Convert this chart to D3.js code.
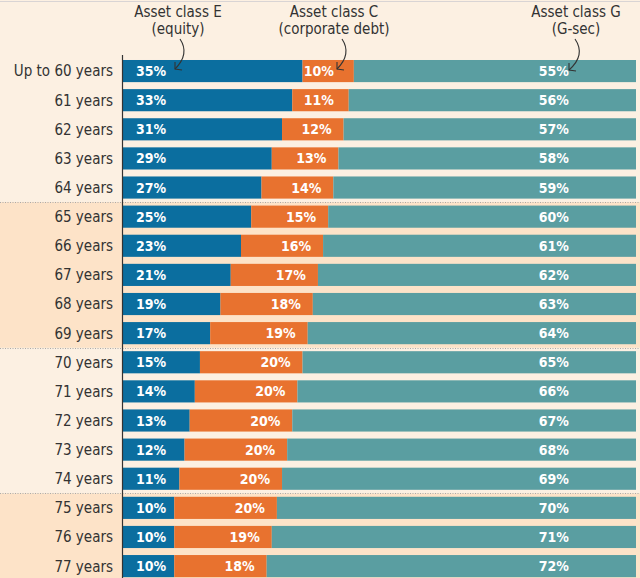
<!DOCTYPE html>
<html><head><meta charset="utf-8">
<script src="https://cdn.jsdelivr.net/npm/d3@7"></script>
<style>
html,body{margin:0;padding:0;background:#fcf0e2;}
svg{display:block;font-family:"DejaVu Sans",sans-serif;font-stretch:condensed;}
</style></head>
<body><svg id="c" width="640" height="578"></svg>
<script>
const ages = ["Up to 60 years","61 years","62 years","63 years","64 years","65 years","66 years","67 years","68 years","69 years","70 years","71 years","72 years","73 years","74 years","75 years","76 years","77 years"];
const equity = [35,33,31,29,27,25,23,21,19,17,15,14,13,12,11,10,10,10];
const corporate = [10,11,12,13,14,15,16,17,18,19,20,20,20,20,20,20,19,18];
const gsec = [55,56,57,58,59,60,61,62,63,64,65,66,67,68,69,70,71,72];
const seriesNames = ["Asset class E","Asset class C","Asset class G"];
const seriesSubs = ["(equity)","(corporate debt)","(G-sec)"];
const groups = [0,0,0,0,0,1,1,1,1,1,2,2,2,2,2,3,3,3];

const W = 640, H = 578;
const svg = d3.select("#c");
const colors = ["#0b6e9f","#e8722f","#5a9ea1"];

const x = d3.scaleLinear().domain([0,100]).range([123,636]);
const y = d3.scaleBand().domain(ages).range([56.5, 56.5 + 29.12*ages.length]).paddingInner(0.24).paddingOuter(0.12);

const step = y.step();
const rowTop = i => y(ages[i]) - y.paddingInner()*step/2;

// background bands for alternate groups
const grpIdx = d3.range(ages.length);
const gStart = {}, gEnd = {};
grpIdx.forEach(i=>{const g=groups[i]; if(gStart[g]===undefined) gStart[g]=i; gEnd[g]=i;});
Object.keys(gStart).forEach(g=>{
  if (+g % 2 === 1) {
    const top = rowTop(gStart[g]);
    const bot = Math.min(H, rowTop(gEnd[g]) + step);
    svg.append("rect").attr("x",0).attr("y",top).attr("width",W).attr("height",bot-top).attr("fill","#fde3c8");
  }
});
// top border
svg.append("line").attr("x1",0).attr("x2",W).attr("y1",1.5).attr("y2",1.5).attr("stroke","#d9d4d4").attr("stroke-width",1);

// separators
Object.keys(gStart).forEach(g=>{
  if (+g > 0) {
    const yy = Math.round(rowTop(gStart[g])) + 0.5;
    svg.append("line").attr("x1",0).attr("x2",W).attr("y1",yy).attr("y2",yy)
      .attr("stroke","#aaa").attr("stroke-width",1).attr("stroke-dasharray","1,1.5");
  }
});

const rows = ages.map((a,i)=>({age:a, vals:[equity[i],corporate[i],gsec[i]]}));
const bh = y.bandwidth();

rows.forEach((r,i)=>{
  let cum = 0;
  r.vals.forEach((v,k)=>{
    svg.append("rect").attr("x",x(cum)).attr("y",y(r.age)).attr("width",x(cum+v)-x(cum)).attr("height",bh).attr("fill",colors[k]);
    cum += v;
  });
  const cy = y(r.age) + bh/2;
  const common = s => s.attr("y",cy).attr("dy","0.36em").attr("fill","#fff").attr("font-weight","bold").attr("font-size",14);
  common(svg.append("text").attr("x",x(0)+13).attr("text-anchor","start").text(r.vals[0]+"%"));
  const cEnd = x(r.vals[0]+r.vals[1]);
  common(svg.append("text").attr("x",Math.min(cEnd-12, x(0)+211)).attr("text-anchor","end").text(r.vals[1]+"%"));
  common(svg.append("text").attr("x",x(86.9)).attr("text-anchor","end").text(r.vals[2]+"%"));
  svg.append("text").attr("x",113).attr("y",cy).attr("dy","0.36em").attr("text-anchor","end")
    .attr("fill","#333").attr("font-size",15).text(r.age);
});

// axis line
svg.append("line").attr("x1",122.5).attr("x2",122.5).attr("y1",55).attr("y2",H).attr("stroke","#333").attr("stroke-width",1.2);

// headers
const headX = [178, 334, 576];
seriesNames.forEach((n,k)=>{
  svg.append("text").attr("x",headX[k]).attr("y",17).attr("text-anchor","middle").attr("fill","#333").attr("font-size",15).text(n);
  svg.append("text").attr("x",headX[k]).attr("y",34).attr("text-anchor","middle").attr("fill","#333").attr("font-size",15).text(seriesSubs[k]);
});

// arrows
const arrows = [[180,39,186,54,175,69],[342,39,348,54,337,69],[575,39,582,55,569,70]];
arrows.forEach(a=>{
  const p = d3.path();
  p.moveTo(a[0],a[1]);
  p.quadraticCurveTo(a[2]+4,a[3],a[4],a[5]);
  svg.append("path").attr("d",p.toString()).attr("fill","none").attr("stroke","#333").attr("stroke-width",1.1);
  svg.append("path").attr("d",`M${a[4]},${a[5]-7} L${a[4]},${a[5]} L${a[4]+7},${a[5]+1}`).attr("fill","none").attr("stroke","#333").attr("stroke-width",1.1);
});
</script></body></html>
